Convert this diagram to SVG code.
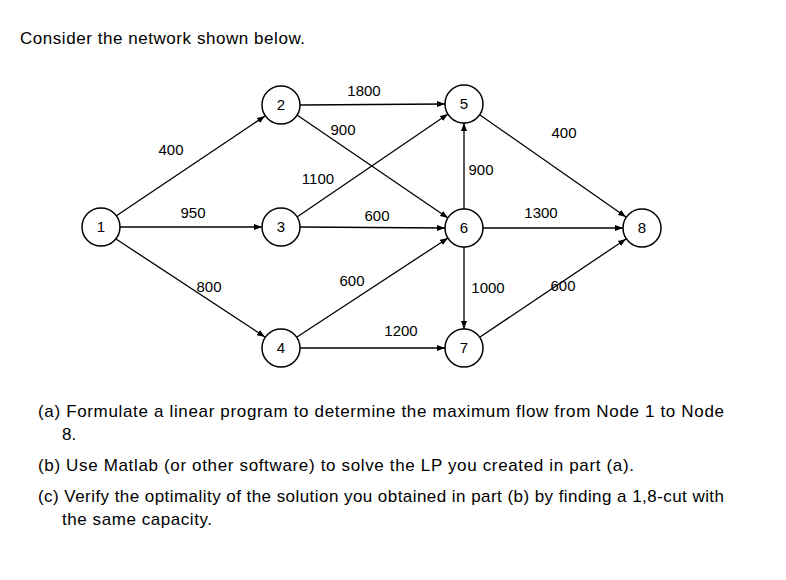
<svg xmlns="http://www.w3.org/2000/svg" width="786" height="580" viewBox="0 0 786 580">
<style>
.n circle{fill:#fff;stroke:#000;stroke-width:1.5}
.n text{font-family:"Liberation Sans",Arial,sans-serif;font-size:15px;text-anchor:middle}
.e line{stroke:#000;stroke-width:1.3;marker-end:url(#a)}
.l{font-family:"Liberation Sans",Arial,sans-serif;font-size:15px;text-anchor:middle}
.t{font-family:"Liberation Sans",Arial,sans-serif;font-size:17px}
</style>
<defs><marker id="a" markerWidth="8" markerHeight="6" refX="8" refY="3" orient="auto" markerUnits="userSpaceOnUse"><path d="M0,0 L8,3 L0,6 z" fill="#000"/></marker></defs>
<rect width="786" height="580" fill="#fff"/>
<text class="t" x="20" y="44" textLength="285" lengthAdjust="spacing">Consider the network shown below.</text>
<g class="e" id="connectors">
<line x1="116" y1="216" x2="265" y2="116"/>
<line x1="120" y1="227" x2="262" y2="227"/>
<line x1="116" y1="239" x2="265" y2="337"/>
<line x1="300" y1="105" x2="445" y2="104"/>
<line x1="297" y1="115" x2="448" y2="218"/>
<line x1="297" y1="217" x2="448" y2="114"/>
<line x1="300" y1="227" x2="445" y2="228"/>
<line x1="297" y1="337" x2="448" y2="238"/>
<line x1="300" y1="348" x2="445" y2="348"/>
<line x1="480" y1="115" x2="626" y2="217"/>
<line x1="464" y1="209" x2="464" y2="123"/>
<line x1="483" y1="228" x2="623" y2="228"/>
<line x1="464" y1="247" x2="464" y2="329"/>
<line x1="480" y1="337" x2="626" y2="239"/>
</g>
<g id="labels">
<text class="l" x="171" y="155">400</text>
<text class="l" x="193" y="218">950</text>
<text class="l" x="209" y="292">800</text>
<text class="l" x="364" y="96">1800</text>
<text class="l" x="343" y="135">900</text>
<text class="l" x="318" y="184">1100</text>
<text class="l" x="377" y="221">600</text>
<text class="l" x="352" y="286">600</text>
<text class="l" x="401" y="336">1200</text>
<text class="l" x="564" y="138">400</text>
<text class="l" x="481" y="175">900</text>
<text class="l" x="541" y="218">1300</text>
<text class="l" x="488" y="293">1000</text>
<text class="l" x="563" y="291">600</text>
</g>
<g class="n" id="node1"><circle cx="101" cy="227" r="19"/><text x="101" y="232">1</text></g>
<g class="n" id="node2"><circle cx="281" cy="105" r="19"/><text x="281" y="110">2</text></g>
<g class="n" id="node3"><circle cx="281" cy="227" r="19"/><text x="281" y="232">3</text></g>
<g class="n" id="node4"><circle cx="281" cy="348" r="19"/><text x="281" y="353">4</text></g>
<g class="n" id="node5"><circle cx="464" cy="104" r="19"/><text x="464" y="109">5</text></g>
<g class="n" id="node6"><circle cx="464" cy="228" r="19"/><text x="464" y="233">6</text></g>
<g class="n" id="node7"><circle cx="464" cy="348" r="19"/><text x="464" y="353">7</text></g>
<g class="n" id="node8"><circle cx="642" cy="228" r="19"/><text x="642" y="233">8</text></g>
<g id="text">
<text class="t" x="38" y="417" textLength="686" lengthAdjust="spacing">(a) Formulate a linear program to determine the maximum flow from Node 1 to Node</text>
<text class="t" x="62" y="440">8.</text>
<text class="t" x="38" y="471" textLength="596" lengthAdjust="spacing">(b) Use Matlab (or other software) to solve the LP you created in part (a).</text>
<text class="t" x="38" y="502" textLength="686" lengthAdjust="spacing">(c) Verify the optimality of the solution you obtained in part (b) by finding a 1,8-cut with</text>
<text class="t" x="62" y="525" textLength="150" lengthAdjust="spacing">the same capacity.</text>
</g>
</svg>
